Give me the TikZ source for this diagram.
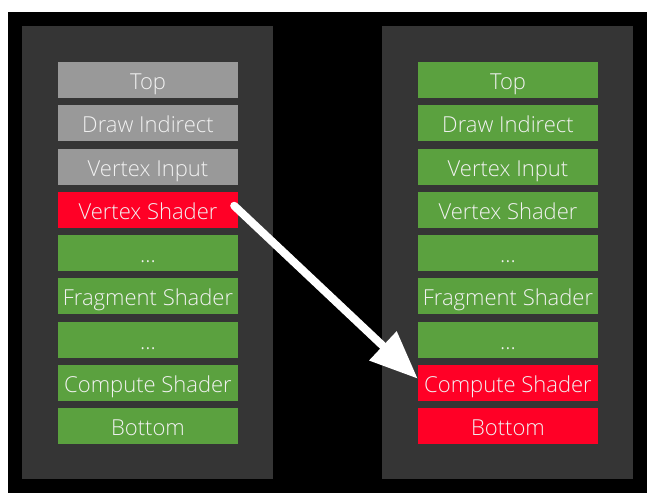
\documentclass[tikz,border=0pt]{standalone}
\usepackage{fontspec}
\setmainfont{Open Sans Light}
\usetikzlibrary{arrows.meta}
\definecolor{panel}{HTML}{353535}
\definecolor{gbox}{HTML}{999999}
\definecolor{grn}{HTML}{5BA13F}
\definecolor{rd}{HTML}{FF0026}
\definecolor{txt}{HTML}{F2F2F2}
\tikzset{
  stage/.style={minimum width=180pt, minimum height=36pt, inner sep=0pt, text=txt,
    text height=27.5pt, text depth=8.5pt,
    font=\fontsize{22}{24}\selectfont},
  gray stage/.style={stage, fill=gbox},
  green stage/.style={stage, fill=grn},
  red stage/.style={stage, fill=rd},
}
\begin{document}
\begin{tikzpicture}[x=1pt,y=-1pt]
\useasboundingbox (0,0) rectangle (657,504);
\fill[white] (0,0) rectangle (657,504);
\fill[black] (8,12) rectangle (647,493);
\fill[panel] (22,26) rectangle (273,479);
\fill[panel] (382,26) rectangle (633,479);
% left column
\node[gray stage]  (l1) at (148,80) {Top};
\node[gray stage]  (l2) at (148,123.25) {Draw Indirect};
\node[gray stage]  (l3) at (148,166.5) {Vertex Input};
\node[red stage]   (l4) at (148,209.75) {Vertex Shader};
\node[green stage] (l5) at (148,253) {...};
\node[green stage] (l6) at (148,296.25) {Fragment Shader};
\node[green stage] (l7) at (148,339.5) {...};
\node[green stage] (l8) at (148,382.75) {Compute Shader};
\node[green stage] (l9) at (148,426) {Bottom};
% right column
\node[green stage] (r1) at (508,80) {Top};
\node[green stage] (r2) at (508,123.25) {Draw Indirect};
\node[green stage] (r3) at (508,166.5) {Vertex Input};
\node[green stage] (r4) at (508,209.75) {Vertex Shader};
\node[green stage] (r5) at (508,253) {...};
\node[green stage] (r6) at (508,296.25) {Fragment Shader};
\node[green stage] (r7) at (508,339.5) {...};
\node[red stage]   (r8) at (508,382.75) {Compute Shader};
\node[red stage]   (r9) at (508,426) {Bottom};
% arrow
\draw[white, line width=8pt, line cap=round, -{Triangle[length=48pt,width=38pt]}]
  ([xshift=-4pt,yshift=4pt]l4.east) -- ([yshift=4pt]r8.west);
\end{tikzpicture}
\end{document}
